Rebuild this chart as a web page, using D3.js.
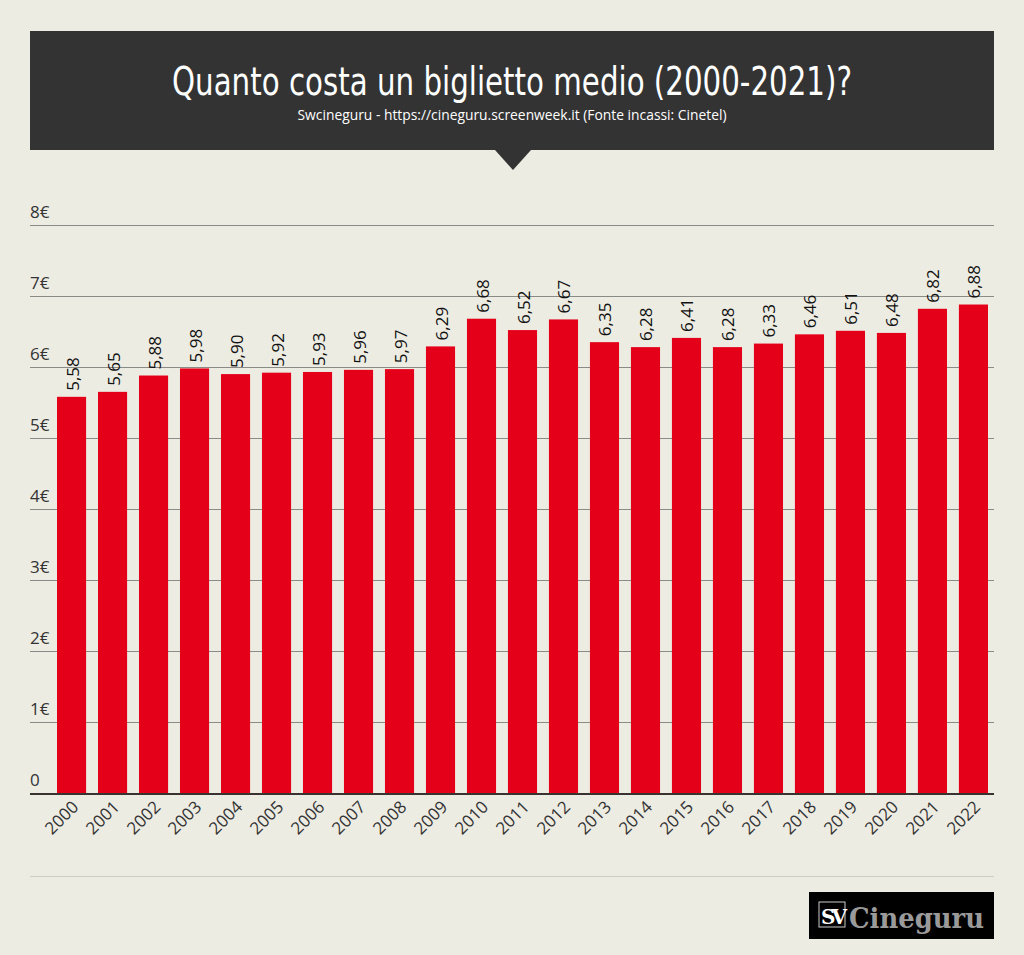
<!DOCTYPE html>
<html>
<head>
<meta charset="utf-8">
<script src="https://cdn.jsdelivr.net/npm/d3@7"></script>
<style>
  html, body { margin: 0; padding: 0; background: #edece3; }
  svg { display: block; }
</style>
</head>
<body>
<div id="chart"></div>
<script>
var years = ["2000", "2001", "2002", "2003", "2004", "2005", "2006", "2007", "2008", "2009", "2010",
  "2011", "2012", "2013", "2014", "2015", "2016", "2017", "2018", "2019", "2020", "2021", "2022"];
var prices = [5.58, 5.65, 5.88, 5.98, 5.90, 5.92, 5.93, 5.96, 5.97, 6.29, 6.68,
  6.52, 6.67, 6.35, 6.28, 6.41, 6.28, 6.33, 6.46, 6.51, 6.48, 6.82, 6.88];
var yTicks = [0, 1, 2, 3, 4, 5, 6, 7, 8];

var width = 1024, height = 955;
var bg = "#edece3";
var red = "#e50019";

var svg = d3.select("#chart").append("svg")
  .attr("width", width)
  .attr("height", height);

svg.append("rect").attr("width", width).attr("height", height).attr("fill", bg);

// header
var header = svg.append("g");
header.append("rect")
  .attr("x", 30).attr("y", 31).attr("width", 964).attr("height", 119)
  .attr("fill", "#333333");
header.append("path")
  .attr("d", "M495,150 L531,150 L513,170 Z")
  .attr("fill", "#333333");
header.append("text")
  .attr("x", 512).attr("y", 95)
  .attr("text-anchor", "middle")
  .attr("fill", "#fff")
  .attr("font-family", "'DejaVu Sans Condensed', 'Liberation Sans Narrow', sans-serif")
  .attr("font-size", 39)
  .attr("textLength", 680)
  .attr("lengthAdjust", "spacingAndGlyphs")
  .text("Quanto costa un biglietto medio (2000-2021)?");
header.append("text")
  .attr("x", 512).attr("y", 120)
  .attr("text-anchor", "middle")
  .attr("fill", "#fff")
  .attr("font-family", "'Open Sans', sans-serif")
  .attr("font-size", 14)
  .attr("textLength", 429)
  .attr("lengthAdjust", "spacingAndGlyphs")
  .text("Swcineguru - https://cineguru.screenweek.it (Fonte incassi: Cinetel)");

// scales
var x = d3.scaleBand().domain(years).range([57, 988]).paddingInner(0.29).paddingOuter(0);
var y = d3.scaleLinear().domain([0, 8]).range([793, 225]);

// grid + y labels
var grid = svg.append("g");
grid.selectAll("line")
  .data(yTicks.filter(function (d) { return d > 0; }))
  .enter().append("line")
  .attr("x1", 30).attr("x2", 994)
  .attr("y1", function (d) { return y(d) + 0.5; })
  .attr("y2", function (d) { return y(d) + 0.5; })
  .attr("stroke", "#8a8a86")
  .attr("stroke-width", 1);
grid.selectAll("text")
  .data(yTicks)
  .enter().append("text")
  .attr("x", 30)
  .attr("y", function (d) { return y(d) - 7; })
  .attr("fill", "#333")
  .attr("font-family", "'Open Sans', sans-serif")
  .attr("font-size", 17)
  .text(function (d) { return d === 0 ? "0" : d + "€"; });

// bars
svg.append("g").selectAll("rect")
  .data(prices)
  .enter().append("rect")
  .attr("x", function (d, i) { return x(years[i]); })
  .attr("y", function (d) { return y(d); })
  .attr("width", x.bandwidth())
  .attr("height", function (d) { return y(0) - y(d); })
  .attr("fill", red);

// value labels
var fmt = function (d) { return d.toFixed(2).replace(".", ","); };
svg.append("g").selectAll("text")
  .data(prices)
  .enter().append("text")
  .attr("transform", function (d, i) {
    return "translate(" + (x(years[i]) + x.bandwidth() / 2 + 7) + "," + (y(d) - 6) + ") rotate(-90)";
  })
  .attr("fill", "#111")
  .attr("font-family", "'Open Sans', sans-serif")
  .attr("font-size", 17)
  .text(fmt);

// baseline
svg.append("line")
  .attr("x1", 30).attr("x2", 994)
  .attr("y1", 794).attr("y2", 794)
  .attr("stroke", "#3a3230")
  .attr("stroke-width", 2);

// x labels
svg.append("g").selectAll("text")
  .data(years)
  .enter().append("text")
  .attr("transform", function (d) {
    return "translate(" + (x(d) + x.bandwidth() / 2 + 8) + ",808) rotate(-45)";
  })
  .attr("text-anchor", "end")
  .attr("fill", "#333")
  .attr("font-family", "'Open Sans', sans-serif")
  .attr("font-size", 17)
  .text(function (d) { return d; });

// footer line
svg.append("line")
  .attr("x1", 30).attr("x2", 994)
  .attr("y1", 876.5).attr("y2", 876.5)
  .attr("stroke", "#cfcdc4")
  .attr("stroke-width", 1);

// logo
var logo = svg.append("g");
logo.append("rect")
  .attr("x", 809).attr("y", 892).attr("width", 185).attr("height", 47)
  .attr("fill", "#000");
logo.append("rect")
  .attr("x", 819).attr("y", 902).attr("width", 26).attr("height", 25)
  .attr("fill", "none").attr("stroke", "#ccc").attr("stroke-width", 1);
logo.append("text")
  .attr("x", 832).attr("y", 924)
  .attr("text-anchor", "middle")
  .attr("fill", "#fff")
  .attr("font-family", "'DejaVu Serif', serif")
  .attr("font-weight", "bold")
  .attr("font-size", 20)
  .attr("letter-spacing", -4)
  .text("SV");
logo.append("text")
  .attr("x", 849).attr("y", 928)
  .attr("fill", "#9a9a9a")
  .attr("font-family", "'DejaVu Serif', serif")
  .attr("font-weight", "bold")
  .attr("font-size", 27)
  .attr("textLength", 135)
  .attr("lengthAdjust", "spacingAndGlyphs")
  .text("Cineguru");
</script>
</body>
</html>
